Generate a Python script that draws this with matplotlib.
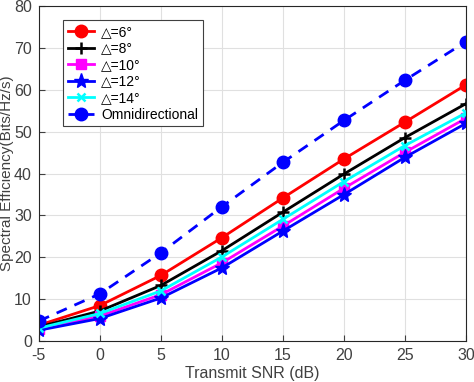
import matplotlib
matplotlib.use("Agg")
import matplotlib.pyplot as plt

plt.rcParams['font.family'] = ['Liberation Sans', 'DejaVu Sans']
plt.rcParams['axes.unicode_minus'] = False

snr = [-5, 0, 5, 10, 15, 20, 25, 30]
d6 = [3.8, 8.5, 15.7, 24.7, 34.2, 43.5, 52.3, 61.2]
d8 = [3.4, 7.2, 13.3, 21.6, 30.8, 39.9, 48.6, 56.7]
d10 = [2.9, 6.0, 11.1, 18.7, 27.5, 36.5, 45.1, 53.2]
d12 = [2.6, 5.4, 10.3, 17.5, 26.3, 35.0, 43.9, 52.0]
d14 = [3.1, 6.6, 12.0, 20.1, 29.1, 38.1, 46.7, 54.5]
omni = [4.8, 11.3, 21.1, 32.1, 42.7, 52.7, 62.3, 71.5]

labels = ['△=6°', '△=8°', '△=10°', '△=12°', '△=14°', 'Omnidirectional']

fig = plt.figure(figsize=(4.74, 3.82), dpi=100)
ax = fig.add_axes([0.082, 0.107, 0.901, 0.877])

ax.plot(snr, d6, '-o', color='#ff0000', lw=2, ms=9, label=labels[0])
ax.plot(snr, d8, '-+', color='black', lw=2, ms=9, mew=1.8, label=labels[1])
ax.plot(snr, d10, '-s', color='#ff00ff', lw=2, ms=7, label=labels[2])
ax.plot(snr, d12, '-*', color='#0000ff', lw=2, ms=11, label=labels[3])
ax.plot(snr, d14, '-x', color='#00ffff', lw=2, ms=6, mew=1.8, label=labels[4])
ax.plot(snr, omni, '--o', color='#0000ff', lw=2, ms=9, dashes=(4, 3), label=labels[5])

ax.set_xlim(-5, 30)
ax.set_ylim(0, 80)
ax.set_xticks(snr)
ax.set_yticks(range(0, 81, 10))
ax.grid(True, color='#e0e0e0', lw=0.8)
ax.set_axisbelow(True)
ax.tick_params(direction='in', labelsize=11.5, colors='#404040', length=4, pad=5)
for s in ax.spines.values():
    s.set_color('#262626')
    s.set_linewidth(0.8)
ax.set_xlabel('Transmit SNR (dB)', fontsize=11.5, color='#404040', labelpad=2)
ax.set_ylabel('Spectral Efficiency(Bits/Hz/s)', fontsize=11, color='#404040', labelpad=0)

leg = ax.legend(loc='upper left', bbox_to_anchor=(0.056, 0.958), fontsize=10,
                fancybox=False, framealpha=1, edgecolor='#404040',
                handlelength=1.9, borderpad=0.35, labelspacing=0.18, handletextpad=0.5,
                borderaxespad=0)
leg.get_frame().set_linewidth(0.8)

fig.savefig('out.png', dpi=100)
